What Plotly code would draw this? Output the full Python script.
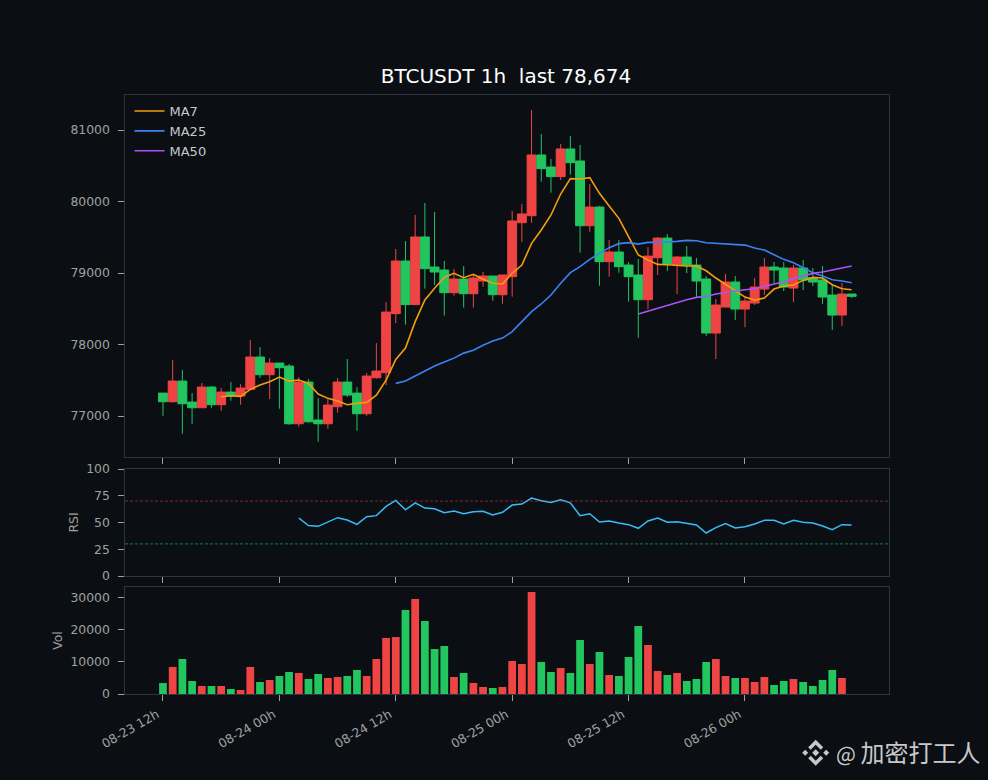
# -*- coding: utf-8 -*-
import pandas as pd
import plotly.graph_objects as go
from plotly.subplots import make_subplots

# hourly candles
times = pd.date_range('2025-08-23 12:00', periods=72, freq='h')

opens = [77321, 77200, 77489, 77195, 77116, 77405, 77158, 77335, 77279, 77373, 77825, 77578,
         77741, 77699, 76892, 77475, 76944, 76892, 77130, 77475, 77321, 77032, 77536, 77606,
         78432, 79168, 78558, 79504, 79084, 79042, 78725, 78916, 78711, 78889, 78958, 78697,
         78949, 79704, 79802, 80651, 80483, 80348, 80735, 80567, 79662, 79923, 79159, 79294,
         79112, 78972, 78627, 79214, 79489, 79112, 79224, 79112, 78916, 78161, 78524, 78874,
         78496, 78580, 78776, 79084, 79070, 78790, 79070, 78934, 78902, 78692, 78412, 78706]
highs = [77321, 77783, 77643, 77321, 77461, 77419, 77391, 77475, 77447, 78063, 77965, 77811,
         77741, 77727, 77545, 77517, 77251, 77237, 77531, 77797, 77405, 77601, 78021, 78594,
         79336, 79448, 79812, 79979, 79854, 79168, 79056, 79098, 78986, 79014, 78958, 78972,
         79868, 79965, 81280, 80944, 80595, 80805, 80917, 80791, 80245, 79937, 79462, 79462,
         79154, 79196, 79363, 79503, 79545, 79238, 79377, 79210, 78958, 78636, 78986, 78958,
         78650, 78930, 79210, 79154, 79154, 79112, 79182, 79070, 79098, 78846, 78860, 78706]
lows = [77004, 77186, 76753, 76892, 77116, 77116, 77074, 77214, 77158, 77373, 77536, 77237,
        77102, 76878, 76850, 76906, 76641, 76822, 77046, 77265, 76794, 77004, 77522, 77433,
        78300, 78280, 78558, 78781, 78833, 78404, 78683, 78516, 78516, 78809, 78613, 78571,
        78669, 79434, 79704, 80278, 80124, 80301, 80376, 79285, 79579, 78823, 78949, 79005,
        78600, 78095, 78496, 78972, 79028, 78706, 78999, 78664, 78119, 77797, 78524, 78342,
        78244, 78552, 78692, 78860, 78748, 78594, 78762, 78818, 78566, 78203, 78258, 78650]
closes = [77200, 77489, 77172, 77116, 77405, 77158, 77335, 77279, 77391, 77825, 77578, 77741,
          77676, 76892, 77475, 76920, 76892, 77153, 77475, 77293, 77032, 77559, 77629, 78454,
          79168, 78558, 79504, 79061, 79014, 78725, 78916, 78711, 78930, 78958, 78697, 78972,
          79728, 79826, 80651, 80460, 80348, 80735, 80544, 79662, 79923, 79159, 79294, 79089,
          78949, 78627, 79237, 79489, 79126, 79224, 79112, 78888, 78161, 78552, 78874, 78496,
          78608, 78804, 79084, 79042, 78804, 79070, 78902, 78874, 78664, 78412, 78706, 78674]

# moving averages as drawn, None where the line has not started yet
ma7 = [None] * 6 + [77270, 77284, 77275, 77373, 77433, 77480, 77545, 77489, 77503, 77457, 77307, 77247,
                    77209, 77158, 77177, 77191, 77293, 77503, 77792, 77950, 78320, 78623, 78786, 78940,
                    78996, 78935, 78982, 78912, 78856, 78847, 78996, 79112, 79415, 79602, 79812, 80105,
                    80320, 80315, 80334, 80115, 79937, 79765, 79509, 79252, 79182, 79121, 79116, 79102,
                    79098, 79098, 79032, 78930, 78846, 78753, 78664, 78622, 78650, 78776, 78818, 78832,
                    78897, 78939, 78930, 78837, 78781, 78767]
ma25 = [None] * 24 + [77457, 77490, 77560, 77630, 77700, 77755, 77810, 77880, 77920, 77990, 78050, 78090,
                      78180, 78320, 78460, 78567, 78693, 78856, 79005, 79089, 79192, 79275, 79355, 79411,
                      79425, 79405, 79429, 79429, 79433, 79443, 79457, 79452, 79424, 79415, 79410, 79405,
                      79391, 79349, 79321, 79256, 79191, 79144, 79074, 79004, 78958, 78906, 78888, 78865]
ma50 = [None] * 49 + [78426, 78468, 78510, 78548, 78590, 78627, 78659, 78673, 78706, 78729, 78748, 78767,
                      78781, 78818, 78846, 78874, 78925, 78958, 78995, 79014, 79042, 79079, 79098]

rsi = [None] * 14 + [54.2, 47.1, 46.4, 50.2, 54.5, 52.3, 48.3, 55.4, 56.4, 65.0, 70.6, 61.9, 68.4, 63.5,
                     62.9, 59.1, 60.7, 58.2, 60.0, 60.4, 57.0, 59.5, 66.3, 67.2, 72.8, 70.3, 68.8, 71.2,
                     68.4, 56.4, 58.2, 50.5, 51.4, 49.5, 48.0, 44.6, 51.4, 54.2, 50.2, 50.8, 49.5, 47.7,
                     40.2, 45.2, 48.9, 44.9, 46.1, 48.6, 52.0, 52.0, 48.6, 52.0, 50.2, 49.5, 46.7, 43.3,
                     48.0, 47.7]

volume = [3400, 8400, 10870, 4040, 2480, 2480, 2480, 1550, 1240, 8400, 3730, 4350,
          5590, 6830, 6520, 4660, 6210, 4970, 5280, 5590, 7450, 5590, 10870, 17390,
          17700, 26080, 29500, 22670, 13970, 14900, 5280, 6520, 3420, 2170, 1860, 2170,
          10250, 9320, 31670, 9940, 6830, 8070, 6520, 16770, 9320, 13040, 5900, 5590,
          11490, 21110, 15210, 7140, 5900, 6520, 4040, 4660, 9940, 10870, 5590, 4970,
          4970, 3730, 5280, 2790, 4040, 4660, 3730, 2480, 4350, 7450, 4970, 0]

tick_times = ['2025-08-23 12:00', '2025-08-24 00:00', '2025-08-24 12:00',
              '2025-08-25 00:00', '2025-08-25 12:00', '2025-08-26 00:00']

UP = '#ef4444'
DOWN = '#22c55e'
BG = '#0b0f14'
EDGE = '#2e3440'
TXT = '#a0a0a0'
W, H = 988, 780


def px(x, y):
    return x / W, 1 - y / H


def poly(points, cx=815.7, cy=752.7):
    # logo pieces, given as pixel offsets from the logo centre
    parts = [px(cx + a, cy + b) for a, b in points]
    return 'M' + ' L'.join('%.5f,%.5f' % p for p in parts) + ' Z'


fig = make_subplots(rows=3, cols=1, shared_xaxes=True)

fig.add_trace(go.Candlestick(x=times, open=opens, high=highs, low=lows, close=closes,
                             increasing=dict(line=dict(color=UP, width=1), fillcolor=UP),
                             decreasing=dict(line=dict(color=DOWN, width=1), fillcolor=DOWN),
                             whiskerwidth=0, showlegend=False), row=1, col=1)

for name, vals, col in [('MA7', ma7, '#f59e0b'), ('MA25', ma25, '#3b82f6'), ('MA50', ma50, '#a855f7')]:
    fig.add_trace(go.Scatter(x=times, y=vals, mode='lines', name=name,
                             line=dict(color=col, width=1.6)), row=1, col=1)

fig.add_trace(go.Scatter(x=times, y=rsi, mode='lines', showlegend=False,
                         line=dict(color='#38bdf8', width=1.5)), row=2, col=1)
fig.add_hline(y=70, row=2, col=1, line=dict(color=UP, width=1, dash='3px,2px'), opacity=0.5)
fig.add_hline(y=30, row=2, col=1, line=dict(color=DOWN, width=1, dash='3px,2px'), opacity=0.6)

bar_colors = [UP if c >= o else DOWN for o, c in zip(opens, closes)]
fig.add_trace(go.Bar(x=times, y=volume, marker=dict(color=bar_colors, line_width=0),
                     showlegend=False), row=3, col=1)

axis_style = dict(showgrid=False, zeroline=False, showline=True, mirror=True, automargin=False,
                  linecolor=EDGE, linewidth=1.3, ticks='outside', ticklen=5.5,
                  tickcolor=TXT, tickwidth=1, tickfont=dict(color=TXT, size=12.4))

x_range = ['2025-08-23 08:05', '2025-08-26 14:51']
x_dom = [125 / W, 889 / W]
for r in [1, 2, 3]:
    fig.update_xaxes(axis_style, row=r, col=1, range=x_range, domain=x_dom,
                     tickvals=tick_times, tickformat='%m-%d %Hh', rangeslider_visible=False)
fig.update_xaxes(tickangle=-30, ticklabelshift=-6, ticklabelstandoff=2, row=3, col=1)
fig.update_xaxes(showticklabels=False, row=1, col=1)
fig.update_xaxes(showticklabels=False, row=2, col=1)

fig.update_yaxes(axis_style, row=1, col=1, domain=[1 - 457 / H, 1 - 95 / H], ticklabelstandoff=6,
                 range=[76427, 81490], tickvals=[77000, 78000, 79000, 80000, 81000], tickformat='d')
fig.update_yaxes(axis_style, row=2, col=1, domain=[1 - 576 / H, 1 - 469 / H], ticklabelstandoff=6,
                 range=[0, 100], tickvals=[0, 25, 50, 75, 100],
                 title=dict(text='RSI', standoff=4.5, font=dict(color=TXT, size=12.4)))
fig.update_yaxes(axis_style, row=3, col=1, domain=[1 - 694 / H, 1 - 587 / H], ticklabelstandoff=6,
                 range=[0, 33230], tickvals=[0, 10000, 20000, 30000], tickformat='d',
                 title=dict(text='Vol', standoff=4.5, font=dict(color=TXT, size=12.4)))

logo = [
    [(0, -13), (7.5, -5.5), (5, -3), (0, -8), (-5, -3), (-7.5, -5.5)],
    [(0, 13), (7.5, 5.5), (5, 3), (0, 8), (-5, 3), (-7.5, 5.5)],
    [(-3.5, 0), (0, -3.5), (3.5, 0), (0, 3.5)],
    [(-13.5, 0), (-10.5, -3), (-7.5, 0), (-10.5, 3)],
    [(13.5, 0), (10.5, -3), (7.5, 0), (10.5, 3)],
]
for piece in logo:
    fig.add_shape(type='path', path=poly(piece), xref='paper', yref='paper',
                  fillcolor='#c8c8c8', line_width=0)

fig.add_annotation(text='<span style="font-size:21px">@ </span>加密打工人', xref='paper', yref='paper',
                   x=834 / W, y=1 - 751 / H, xanchor='left', yanchor='middle', showarrow=False,
                   font=dict(family='Noto Sans CJK SC', size=24, color='#c8c8c8'))

fig.update_layout(
    width=W, height=H,
    margin=dict(l=0, r=0, t=0, b=0),
    paper_bgcolor=BG, plot_bgcolor=BG,
    font=dict(family='DejaVu Sans', color=TXT, size=12),
    title=dict(text='BTCUSDT 1h  last 78,674', x=506 / W, y=1 - 76 / H, xanchor='center', yanchor='middle',
               font=dict(color='#ffffff', size=20)),
    legend=dict(x=129.5 / W, y=1 - 96 / H, xanchor='left', yanchor='top', bgcolor='rgba(0,0,0,0)',
                font=dict(color='#c8c8c8', size=13), itemwidth=30, tracegroupgap=0),
    boxgap=0.08, boxgroupgap=0, bargap=0.2,
    hovermode=False,
)

# page margin off so the figure sits at the window corner
fig.write_html("out.html", config={'displayModeBar': False},
               post_script="document.body.style.margin='0';document.body.style.background='%s';" % BG)
